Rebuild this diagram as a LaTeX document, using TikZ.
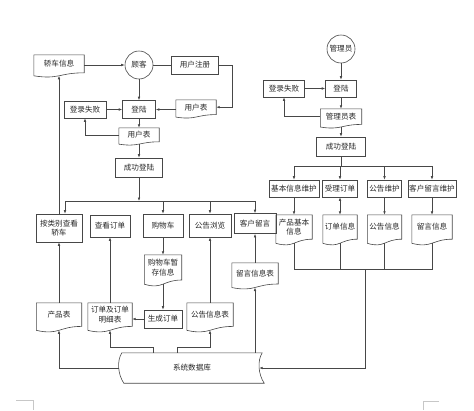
\documentclass[tikz,border=0pt]{standalone}
\usepackage{fontspec}
\newfontfamily\cjk{Noto Sans CJK SC}
\usetikzlibrary{arrows.meta,calc}
\colorlet{lc}{black!72}
\tikzset{
  every node/.style={font=\cjk\fontsize{7.6}{9.4}\selectfont, text=black!85, align=center, inner sep=0pt},
  boxn/.style={draw=lc, line width=0.6pt},
  docn/.style={draw=none},
  roundn/.style={circle, draw=lc, line width=0.6pt, minimum size=28pt},
  ln/.style={draw=lc, line width=0.6pt},
  arr/.style={ln, -{Latex[length=3.5pt,width=2.6pt]}},
  darr/.style={ln, {Latex[length=3.5pt,width=2.6pt]}-{Latex[length=3.5pt,width=2.6pt]}},
}
\newcommand{\docout}[1]{%
  \draw[ln] (#1.north west) -- (#1.north east) -- (#1.south east)
    .. controls (#1.south) and ($(#1.north)!1.384!(#1.south)$) ..
    ($(#1.north west)!1.1675!(#1.south west)$) -- cycle;
  \coordinate (#1b) at ($(#1.north)!1.165!(#1.south)$);}
\begin{document}
\begin{tikzpicture}[x=1pt,y=-1pt]
\useasboundingbox (0,0) rectangle (474,410);

% ---------- left: customer ----------
\node[docn, minimum width=50pt, minimum height=17.6pt] (n1) at (59,63.8) {轿车信息}; \docout{n1}
\node[roundn] (guke) at (139,65) {顾客};
\node[boxn, minimum width=47pt, minimum height=18pt] (zhuce) at (195,65) {用户注册};
\node[boxn, minimum width=33pt, minimum height=18pt] (denglu) at (139,109.5) {登陆};
\node[boxn, minimum width=42pt, minimum height=17pt] (shibai) at (85,109.5) {登录失败};
\node[docn, minimum width=40pt, minimum height=14.4pt] (yhb1) at (196,107.2) {用户表}; \docout{yhb1}
\node[docn, minimum width=40pt, minimum height=13.6pt] (yhb2) at (139,134.8) {用户表}; \docout{yhb2}
\node[boxn, minimum width=47pt, minimum height=19pt] (cg) at (139,167.5) {成功登陆};

\node[boxn, minimum width=46pt, minimum height=28pt] (anlei) at (59,228) {按类别查看\\轿车};
\node[boxn, minimum width=40pt, minimum height=22pt] (ckdd) at (110,226) {查看订单};
\node[boxn, minimum width=40pt, minimum height=23pt] (gwc) at (163,225.5) {购物车};
\node[boxn, minimum width=42pt, minimum height=23pt] (gglan) at (210,225.5) {公告浏览};
\node[boxn, minimum width=42pt, minimum height=20pt] (khly) at (255,223.5) {客户留言};

\node[docn, minimum width=45pt, minimum height=23.2pt] (cpb) at (59,314.6) {产品表}; \docout{cpb}
\node[docn, minimum width=44pt, minimum height=23.2pt] (ddmx) at (110,314.6) {订单及订单\\明细表}; \docout{ddmx}
\node[boxn, minimum width=38pt, minimum height=18pt] (scdd) at (163,319) {生成订单};
\node[docn, minimum width=37pt, minimum height=24.8pt] (gwczc) at (163,267.4) {购物车暂\\存信息}; \docout{gwczc}
\node[docn, minimum width=46pt, minimum height=23.2pt] (ggb) at (210,314.6) {公告信息表}; \docout{ggb}
\node[docn, minimum width=46pt, minimum height=20.8pt] (lyb) at (255,273.4) {留言信息表}; \docout{lyb}

\node[draw=none, minimum width=140pt, minimum height=30pt] (db) at (192,368) {系统数据库};
\draw[ln] (db.north west) .. controls +(-5,8) and +(-6,-9) .. ($(db.south west)+(2,0)$)
  -- ($(db.south east)+(2,0)$) .. controls +(-6,-9) and +(-5,8) .. (db.north east) -- cycle;

% ---------- right: admin ----------
\node[roundn] (gly) at (341,49) {管理员};
\node[boxn, minimum width=31pt, minimum height=17pt] (dl2) at (341,88.5) {登陆};
\node[boxn, minimum width=41pt, minimum height=17pt] (sb2) at (284,88.5) {登录失败};
\node[docn, minimum width=41pt, minimum height=15.2pt] (glyb) at (341,116.6) {管理员表}; \docout{glyb}
\node[boxn, minimum width=49pt, minimum height=19pt] (cg2) at (341,146.5) {成功登陆};

\node[boxn, minimum width=50pt, minimum height=17pt] (jbxx) at (294,188.5) {基本信息维护};
\node[boxn, minimum width=35pt, minimum height=17pt] (sldd) at (340,188.5) {受理订单};
\node[boxn, minimum width=34pt, minimum height=17pt] (ggwh) at (384.5,188.5) {公告维护};
\node[boxn, minimum width=48pt, minimum height=17pt] (lywh) at (432,188.5) {客户留言维护};

\node[docn, minimum width=36pt, minimum height=24pt] (cpjb) at (294,227) {产品基本\\信息}; \docout{cpjb}
\node[docn, minimum width=34pt, minimum height=24pt] (ddxx) at (340,227) {订单信息}; \docout{ddxx}
\node[docn, minimum width=34pt, minimum height=24pt] (ggxx) at (384.5,227) {公告信息}; \docout{ggxx}
\node[docn, minimum width=40pt, minimum height=24pt] (lyxx) at (432,227) {留言信息}; \docout{lyxx}

% ---------- left connectors ----------
\draw[arr] (guke.west -| n1.east) -- (guke.west);
\draw[ln] (guke.east) -- (zhuce.west);
\draw[arr] (zhuce.east) -- ++(13,0) |- (yhb1.east);
\draw[arr] (denglu.east -| yhb1.west) -- (denglu.east);
\draw[arr] (shibai.east) -- (denglu.west);
\draw[arr] (guke.south) -- (denglu.north);
\draw[arr] (denglu.south) -- (yhb2.north);
\draw[arr] (yhb2.west) -| (shibai.south);
\draw[arr] (yhb2b) -- (cg.north);
\coordinate (b1) at (139,201);
\coordinate (bA) at (65,201);
\coordinate (bE) at (255,201);
\draw[arr] (cg.south) -- (b1);
\draw[ln] (bA) -- (bE);
\draw[arr] (bA) -- (bA |- anlei.north);
\draw[arr] (gwc.north |- b1) -- (gwc.north);
\draw[arr] (gglan.north |- b1) -- (gglan.north);
\draw[arr] (khly.north |- b1) -- (khly.north);
\draw[arr] (anlei.north) -- (n1b);
\draw[arr] (cpb.north) -- (anlei.south);
\draw[arr] (ddmx.north) -- (ckdd.south);
\draw[arr] (scdd.west) -- (scdd.west -| ddmx.east);
\draw[arr] (gwc.south) -- (gwczc.north);
\draw[arr] (gwczcb) -- (scdd.north);
\draw[arr] (ggb.north) -- (gglan.south);
\draw[arr] (lyb.north) -- (khly.south);

\coordinate (dbL) at ($(db.west)+(-3,0)$);
\coordinate (dbT1) at ($(db.north west)+(31,0)$);
\coordinate (dbT2) at ($(db.north west)+(55,0)$);
\coordinate (dbR) at ($(db.east)+(-3,0)$);
\draw[arr] (dbL) -| (cpbb);
\draw[arr] (dbT1) -- ++(0,-6) -| (ddmxb);
\draw[arr] (dbT2) -- ++(0,-6) -| (ggbb);
\draw[arr] (db.north west -| lyb.south) -- (lybb);

% ---------- right connectors ----------
\draw[arr] (gly.south) -- (dl2.north);
\draw[arr] (sb2.east) -- (dl2.west);
\draw[arr] (dl2.south) -- (glyb.north);
\draw[arr] (glyb.west) -| (sb2.south);
\draw[arr] (glybb) -- (cg2.north);
\coordinate (c2) at (341,166);
\draw[ln] (cg2.south) -- (c2);
\draw[ln] (jbxx.north |- c2) -- (lywh.north |- c2);
\draw[arr] (jbxx.north |- c2) -- (jbxx.north);
\draw[arr] (sldd.north |- c2) -- (sldd.north);
\draw[arr] (ggwh.north |- c2) -- (ggwh.north);
\draw[arr] (lywh.north |- c2) -- (lywh.north);
\draw[arr] (jbxx.south) -- (cpjb.north);
\draw[darr] (sldd.south) -- (ddxx.north);
\draw[arr] (ggwh.south) -- (ggxx.north);
\draw[arr] (lywh.south) -- (lyxx.north);
\coordinate (b3m) at (365,269);
\draw[ln] (cpjbb) -- (cpjbb |- b3m) -- (lyxxb |- b3m) -- (lyxxb);
\draw[ln] (ddxxb) -- (ddxxb |- b3m);
\draw[ln] (ggxxb) -- (ggxxb |- b3m);
\draw[arr] (b3m) |- (dbR);

% page corner marks
\draw[black!22, line width=0.5pt] (16,400) -- (33,400) -- (33,410);
\draw[black!22, line width=0.5pt] (439,401) -- (423,401) -- (423,410);
\end{tikzpicture}
\end{document}
